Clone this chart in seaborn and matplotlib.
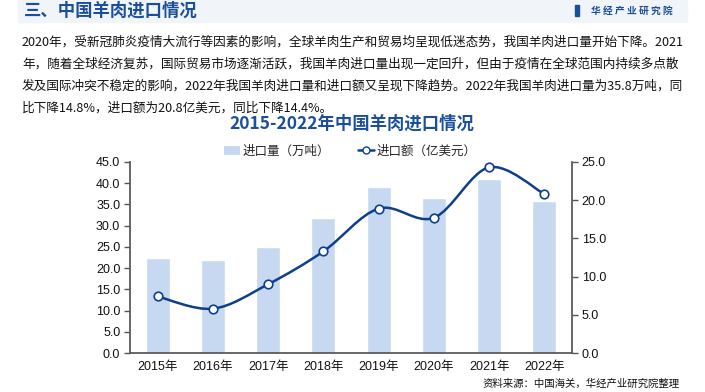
import numpy as np
import pandas as pd
import matplotlib
matplotlib.use("Agg")
import matplotlib.pyplot as plt
import seaborn as sns
from matplotlib.path import Path
from matplotlib.patches import PathPatch, Patch, Rectangle
from matplotlib.lines import Line2D

# data
years = ["2015年", "2016年", "2017年", "2018年", "2019年", "2020年", "2021年", "2022年"]
volume = [22.3, 22.0, 24.9, 31.9, 39.2, 36.5, 41.1, 35.8]      # 进口量（万吨）
amount = [7.4, 5.8, 9.0, 13.3, 18.9, 17.7, 24.3, 20.8]         # 进口额（亿美元）
left_ticks = [0, 5, 10, 15, 20, 25, 30, 35, 40, 45]
right_ticks = [0, 5, 10, 15, 20, 25]

header = "三、中国羊肉进口情况"
brand = "华 经 产 业 研 究 院"
paragraph = [
    "2020年，受新冠肺炎疫情大流行等因素的影响，全球羊肉生产和贸易均呈现低迷态势，我国羊肉进口量开始下降。2021",
    "年，随着全球经济复苏，国际贸易市场逐渐活跃，我国羊肉进口量出现一定回升，但由于疫情在全球范围内持续多点散",
    "发及国际冲突不稳定的影响，2022年我国羊肉进口量和进口额又呈现下降趋势。2022年我国羊肉进口量为35.8万吨，同",
    "比下降14.8%，进口额为20.8亿美元，同比下降14.4%。",
]
chart_title = "2015-2022年中国羊肉进口情况"
source = "资料来源：中国海关，华经产业研究院整理"

sns.set_theme(style="white")
plt.rcParams['font.family'] = ['Liberation Sans', 'Noto Sans CJK SC', 'DejaVu Sans']
cjk = ['Noto Sans CJK SC', 'DejaVu Sans']

BAR = "#c6d9f1"
LINE = "#0f3f8c"
DARK = "#1b4f9c"

fig = plt.figure(figsize=(7.05, 3.92), dpi=100)

# header band
fig.patches.append(Rectangle((18 / 705, 1 - 22 / 392), 669 / 705, 22 / 392,
                             transform=fig.transFigure, color="#f1f4f9", zorder=0))
fig.text(24 / 705, 1 - 11 / 392, header, family=cjk, fontsize=12.5, fontweight="bold",
         color=DARK, va="center", ha="left")
fig.patches.append(Rectangle((575 / 705, 1 - 16 / 392), 4 / 705, 11 / 392,
                             transform=fig.transFigure, color=DARK, zorder=1))
fig.text(591 / 705, 1 - 10.5 / 392, brand, family=cjk, fontsize=7, fontweight="bold",
         color=DARK, va="center", ha="left")

for i, line in enumerate(paragraph):
    fig.text(22 / 705, 1 - (42 + 22 * i) / 392, line, family=cjk, fontsize=9.1,
             color="#111111", va="center", ha="left")

fig.text(352 / 705, 1 - 124 / 392, chart_title, family=cjk, fontsize=12.5,
         fontweight="bold", color=DARK, va="center", ha="center")
fig.text(680 / 705, 1 - 384 / 392, source, family=cjk, fontsize=7.5,
         color="#111111", va="center", ha="right")

ax = fig.add_axes([130 / 705, 1 - 353 / 392, 442 / 705, 191 / 392])
df = pd.DataFrame({"year": years, "volume": volume})
sns.barplot(data=df, x="year", y="volume", color=BAR, saturation=1, width=0.43, ax=ax, zorder=2)
ax.set_xlim(-0.5, 7.5)
ax.set_ylim(0, 45)
ax.set_yticks(left_ticks)
ax.set_yticklabels([f"{v:.1f}" for v in left_ticks], fontsize=9)
ax.set_xlabel("")
ax.set_ylabel("")
ax.set_xticks(range(len(years)))
ax.set_xticklabels(years, fontsize=9)
ax.set_xticks(np.arange(-0.5, 7.6, 1), minor=True)
ax.tick_params(axis="x", which="major", length=0, pad=6, colors="#111111")
ax.tick_params(axis="x", which="minor", length=5, width=1, color="#555555", direction="out")
ax.tick_params(axis="y", length=4, width=1, color="#555555", direction="out", pad=3, labelcolor="#111111")
for s in ["top", "right"]:
    ax.spines[s].set_visible(False)
ax.spines["left"].set_color("#555555")
ax.spines["bottom"].set_color("#555555")

ax2 = ax.twinx()
ax2.set_ylim(0, 25)
ax2.set_yticks(right_ticks)
ax2.set_yticklabels([f"{v:.1f}" for v in right_ticks], fontsize=9)
ax2.tick_params(axis="y", length=4, width=1, color="#555555", direction="out", pad=3, labelcolor="#111111")
for s in ["top", "left", "bottom"]:
    ax2.spines[s].set_visible(False)
ax2.spines["right"].set_color("#555555")
ax2.grid(False)

# smooth curve through the points (Catmull-Rom as cubic Bezier)
xs = np.arange(len(amount), dtype=float)
ys = np.array(amount, dtype=float)
pts = np.column_stack([xs, ys])
ext = np.vstack([pts[0], pts, pts[-1]])
verts = [tuple(pts[0])]
codes = [Path.MOVETO]
for i in range(len(pts) - 1):
    p0, p1, p2, p3 = ext[i], ext[i + 1], ext[i + 2], ext[i + 3]
    c1 = p1 + (p2 - p0) / 6
    c2 = p2 - (p3 - p1) / 6
    verts += [tuple(c1), tuple(c2), tuple(p2)]
    codes += [Path.CURVE4] * 3
ax2.add_patch(PathPatch(Path(verts, codes), fill=False, edgecolor=LINE, lw=1.8, zorder=3))
sns.scatterplot(x=xs, y=ys, ax=ax2, s=38, color="white", edgecolor=LINE, linewidth=1.2, zorder=4)
ax2.set_xlim(-0.5, 7.5)

handles = [Patch(facecolor=BAR, edgecolor="none"),
           Line2D([0], [0], color=LINE, lw=1.8, marker="o", markersize=5,
                  markerfacecolor="white", markeredgecolor=LINE)]
fig.legend(handles, ["进口量（万吨）", "进口额（亿美元）"], loc="center",
           bbox_to_anchor=(350 / 705, 1 - 151 / 392), ncol=2, frameon=False,
           prop={"family": cjk, "size": 9}, handlelength=1.3, handletextpad=0.2,
           columnspacing=2.2)

fig.savefig("out.png", dpi=100)
